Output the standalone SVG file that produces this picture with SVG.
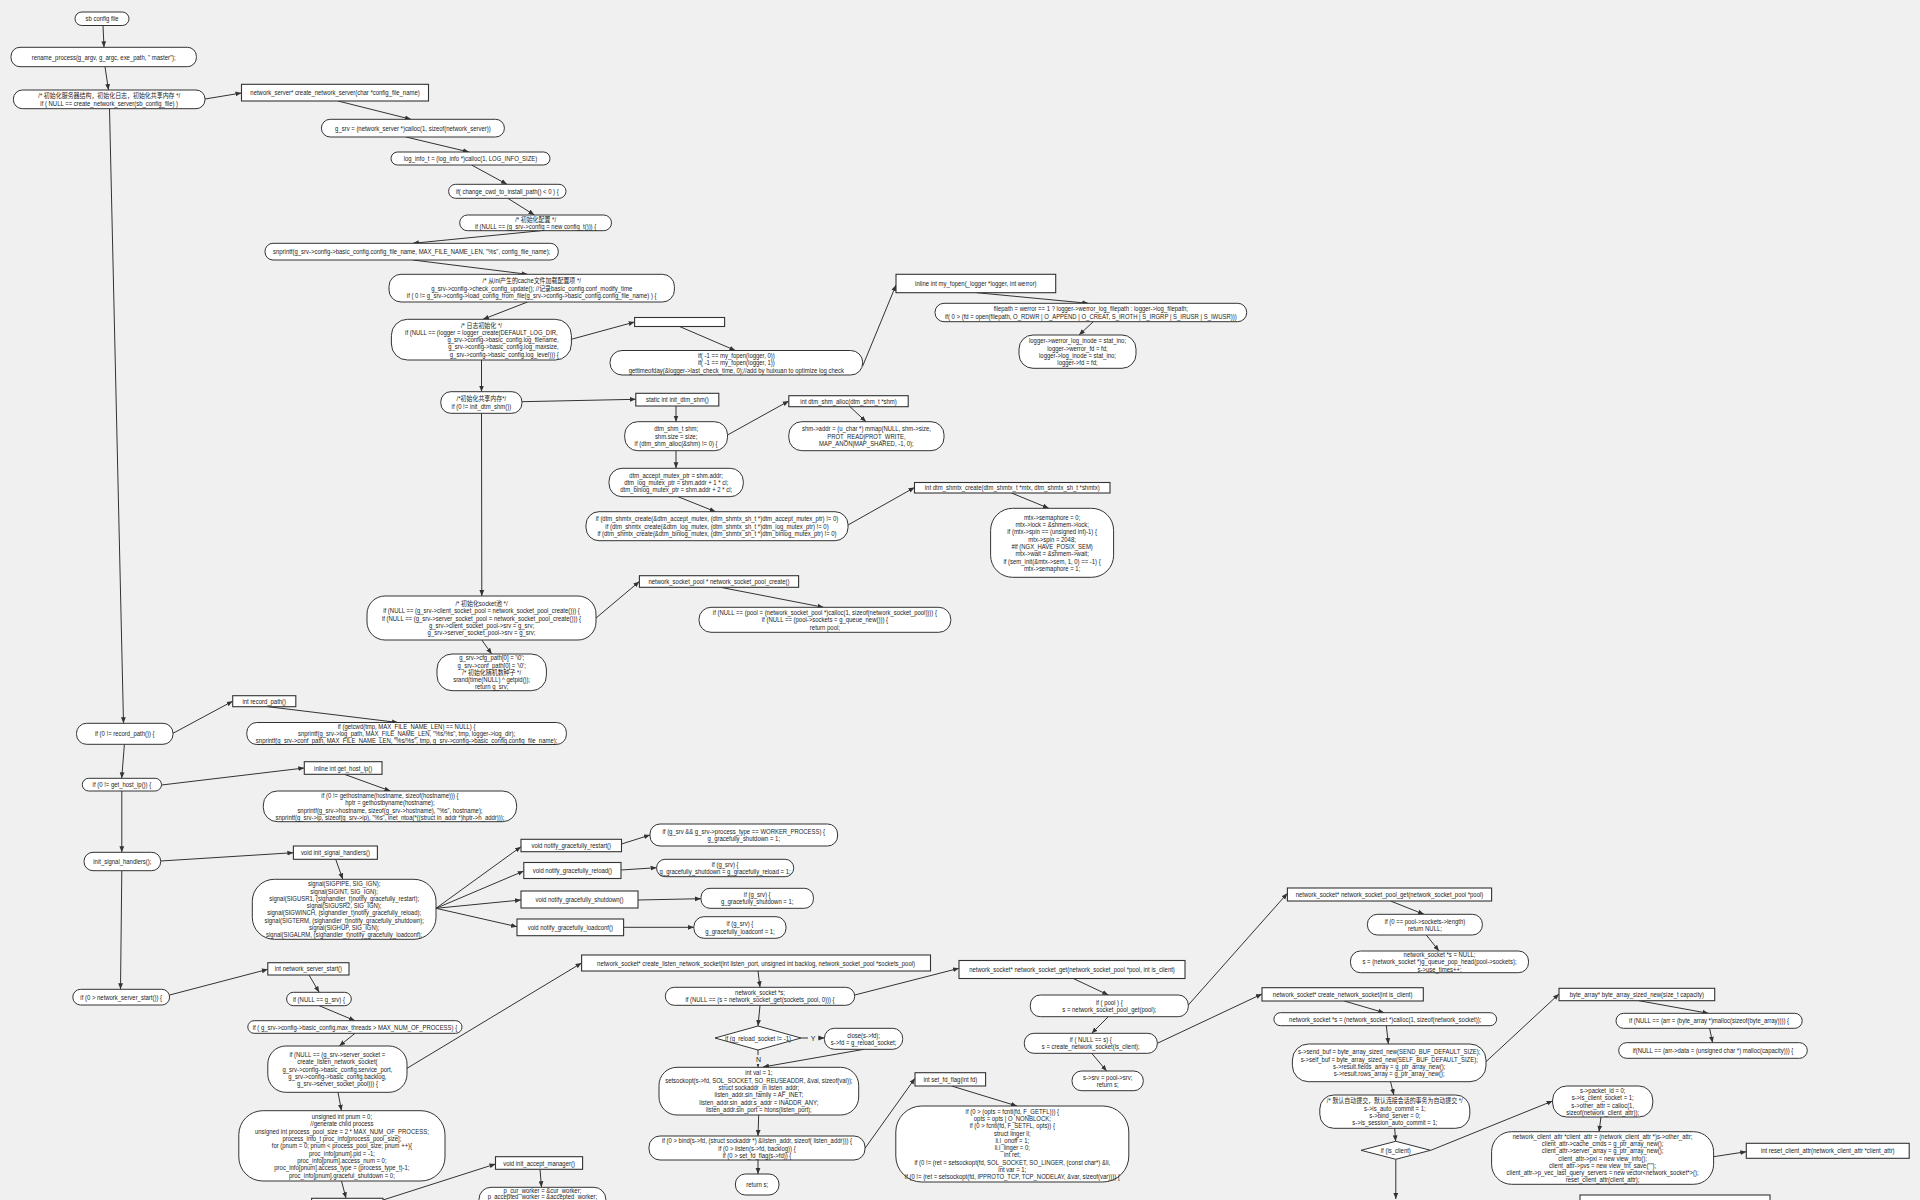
<svg xmlns="http://www.w3.org/2000/svg" width="1920" height="1200" viewBox="0 0 1920 1200">
<defs>
<marker id="ah" viewBox="0 0 10 10" refX="10" refY="5" markerWidth="6" markerHeight="6" orient="auto"><path d="M0,1 L10,5 L0,9 z" fill="#333"/></marker>
</defs>
<style>
.bg{fill:#f0f0f0}
.n{fill:#fff;stroke:#333;stroke-width:1}
.r{fill:#fff;stroke:#333;stroke-width:1.1}
.t{font-family:"Liberation Sans","Noto Sans CJK SC",sans-serif;font-size:7px;fill:#222;text-anchor:middle}
.te{font-family:"Liberation Sans","Noto Sans CJK SC",sans-serif;font-size:7px;fill:#222;text-anchor:end}
.c line{stroke:#333;stroke-width:1;marker-end:url(#ah)}
.lb{font-family:"Liberation Sans",sans-serif;font-size:7px;fill:#222;text-anchor:middle}
</style>
<rect class="bg" x="0" y="0" width="1920" height="1200"/>

<g class="c" id="connectors">
<line x1="103" y1="25.3" x2="104" y2="47.3"/>
<line x1="105" y1="66.7" x2="108.5" y2="90"/>
<line x1="205" y1="99" x2="241.5" y2="93"/>
<line x1="338" y1="101" x2="411" y2="119.3"/>
<line x1="406" y1="137" x2="469" y2="152"/>
<line x1="471.6" y1="165" x2="507" y2="184.3"/>
<line x1="507.8" y1="198.3" x2="534.4" y2="215"/>
<line x1="541" y1="230.7" x2="412.8" y2="243.3"/>
<line x1="412.8" y1="260" x2="527.5" y2="274.3"/>
<line x1="527.5" y1="302" x2="483" y2="319.3"/>
<line x1="571.3" y1="339.3" x2="634.6" y2="322"/>
<line x1="680" y1="326.7" x2="735.4" y2="350.5"/>
<line x1="862.7" y1="366" x2="896" y2="285"/>
<line x1="976.7" y1="292.7" x2="1088.3" y2="303.3"/>
<line x1="1093.3" y1="321.7" x2="1079" y2="335"/>
<line x1="481.5" y1="360" x2="481.5" y2="391.7"/>
<line x1="521.9" y1="401.7" x2="635.8" y2="399.3"/>
<line x1="676" y1="406" x2="676" y2="421.7"/>
<line x1="727.5" y1="435" x2="788.8" y2="401"/>
<line x1="850" y1="406.7" x2="866" y2="421.7"/>
<line x1="676" y1="450.7" x2="676" y2="468.3"/>
<line x1="678" y1="496.7" x2="715.5" y2="511.7"/>
<line x1="848" y1="525" x2="914.5" y2="487.5"/>
<line x1="1011.5" y1="493" x2="1048.8" y2="508.3"/>
<line x1="481.5" y1="413.3" x2="481.8" y2="596"/>
<line x1="596" y1="618" x2="639.4" y2="581.5"/>
<line x1="720.5" y1="587.3" x2="823.5" y2="607.3"/>
<line x1="481.8" y1="640" x2="491.7" y2="654"/>
<line x1="109.5" y1="108.7" x2="123.5" y2="723.3"/>
<line x1="173" y1="733.3" x2="232.7" y2="701.2"/>
<line x1="268" y1="706.7" x2="398" y2="722.5"/>
<line x1="124.4" y1="744.3" x2="121.7" y2="778.3"/>
<line x1="161.5" y1="785" x2="304.3" y2="768"/>
<line x1="344.4" y1="774.3" x2="390.4" y2="791"/>
<line x1="121.8" y1="791" x2="121.8" y2="852.3"/>
<line x1="160.7" y1="861" x2="293.4" y2="852.7"/>
<line x1="335.7" y1="859.3" x2="342.8" y2="879.3"/>
<line x1="436" y1="908.3" x2="521" y2="846.7"/>
<line x1="436" y1="908.3" x2="523.8" y2="871"/>
<line x1="436" y1="908.3" x2="521" y2="900"/>
<line x1="436" y1="908.3" x2="517" y2="926.7"/>
<line x1="621.5" y1="844" x2="650" y2="835"/>
<line x1="621" y1="870" x2="656.6" y2="867.7"/>
<line x1="638" y1="900" x2="701" y2="898.7"/>
<line x1="623.6" y1="927.3" x2="693.9" y2="927.3"/>
<line x1="121.8" y1="870.7" x2="120.5" y2="989.3"/>
<line x1="169.6" y1="995" x2="267.8" y2="969.3"/>
<line x1="309" y1="975" x2="319.2" y2="992.3"/>
<line x1="319.2" y1="1005.7" x2="355" y2="1020.7"/>
<line x1="355" y1="1033.3" x2="339.3" y2="1046"/>
<line x1="407" y1="1068.3" x2="581.6" y2="963"/>
<line x1="338" y1="1092.3" x2="341.5" y2="1110.7"/>
<line x1="341.5" y1="1181" x2="346" y2="1198.3"/>
<line x1="383" y1="1200" x2="495.5" y2="1164"/>
<line x1="540" y1="1169.3" x2="541.5" y2="1187.3"/>
<line x1="758" y1="971" x2="760" y2="987.3"/>
<line x1="854.7" y1="995" x2="959" y2="968.3"/>
<line x1="760" y1="1005.3" x2="758" y2="1026"/>
<line x1="801" y1="1038" x2="824.4" y2="1038"/>
<line x1="758" y1="1050" x2="758" y2="1067.3"/>
<line x1="864" y1="1049.3" x2="763" y2="1067"/>
<line x1="758.7" y1="1115" x2="758" y2="1136"/>
<line x1="758" y1="1160" x2="758" y2="1174"/>
<line x1="865" y1="1148.3" x2="915" y2="1078.3"/>
<line x1="951.7" y1="1086" x2="1017" y2="1106"/>
<line x1="1073.3" y1="978.5" x2="1108.3" y2="995"/>
<line x1="1108.3" y1="1016.7" x2="1091.7" y2="1033.3"/>
<line x1="1091.7" y1="1053.3" x2="1106.7" y2="1071"/>
<line x1="1188.3" y1="1005" x2="1287.4" y2="893.3"/>
<line x1="1157.3" y1="1043.3" x2="1262" y2="994"/>
<line x1="1390.5" y1="901" x2="1424" y2="914.3"/>
<line x1="1426.3" y1="935" x2="1439" y2="951"/>
<line x1="1344.2" y1="1001" x2="1384.2" y2="1012.7"/>
<line x1="1386.3" y1="1025.7" x2="1388.4" y2="1044"/>
<line x1="1486" y1="1061.7" x2="1559" y2="994"/>
<line x1="1638.9" y1="1000.7" x2="1708.4" y2="1013.3"/>
<line x1="1709.6" y1="1028.3" x2="1712.6" y2="1042.7"/>
<line x1="1390.5" y1="1081.7" x2="1393.9" y2="1095"/>
<line x1="1394.7" y1="1128.3" x2="1395.6" y2="1141.3"/>
<line x1="1430.8" y1="1150.3" x2="1552.6" y2="1101"/>
<line x1="1601" y1="1117" x2="1599" y2="1131.7"/>
<line x1="1713.6" y1="1156.7" x2="1746.3" y2="1151.7"/>
<line x1="1395.8" y1="1159.3" x2="1395.8" y2="1199"/>
<rect x="808" y="1034" width="10" height="9" fill="#f0f0f0"/>
<text class="lb" x="813" y="1040.5">Y</text>
<rect x="754" y="1055" width="9" height="9" fill="#f0f0f0"/>
<text class="lb" x="758.5" y="1062">N</text>
</g>

<g id="n1"><rect class="n" x="75" y="12" width="54" height="13.5" rx="6.75"/><text class="t" transform="translate(102 18.75) scale(.85 1)"><tspan x="0" y="2.5">sb config file</tspan></text></g>
<g id="n2"><rect class="n" x="11" y="47.3" width="185.4" height="19.4" rx="9"/><text class="t" transform="translate(103.7 57) scale(.85 1)"><tspan x="0" y="2.5">rename_process(g_argv, g_argc, exe_path, " master");</tspan></text></g>
<g id="n3"><rect class="n" x="13.4" y="90" width="191.6" height="18.7" rx="9"/><text class="t" transform="translate(109.2 99.35) scale(.85 1)"><tspan x="0" y="-1.15">/* 初始化服务器结构，初始化日志，初始化共享内存 */</tspan><tspan x="0" dy="7.3">if ( NULL == create_network_server(sb_config_file) )</tspan></text></g>
<g id="n4"><rect class="r" x="241.5" y="84.3" width="187" height="16.7"/><text class="t" transform="translate(335 92.65) scale(.85 1)"><tspan x="0" y="2.5">network_server* create_network_server(char *config_file_name)</tspan></text></g>
<g id="n5"><rect class="n" x="321.4" y="119.3" width="183" height="17.7" rx="8.8"/><text class="t" transform="translate(412.9 128.15) scale(.85 1)"><tspan x="0" y="2.5">g_srv = (network_server *)calloc(1, sizeof(network_server))</tspan></text></g>
<g id="n6"><rect class="n" x="391" y="152" width="159" height="13" rx="6.5"/><text class="t" transform="translate(470.5 158.5) scale(.85 1)"><tspan x="0" y="2.5">log_info_t = (log_info *)calloc(1, LOG_INFO_SIZE)</tspan></text></g>
<g id="n7"><rect class="n" x="448.6" y="184.3" width="117.4" height="14" rx="7"/><text class="t" transform="translate(507.3 191.3) scale(.85 1)"><tspan x="0" y="2.5">if( change_cwd_to_install_path() &lt; 0 ) {</tspan></text></g>
<g id="n8"><rect class="n" x="459.7" y="215" width="151.8" height="15.7" rx="7.8"/><text class="t" transform="translate(535.6 222.85) scale(.85 1)"><tspan x="0" y="-1.15">/* 初始化配置 */</tspan><tspan x="0" dy="7.3">if (NULL == (g_srv-&gt;config = new config_t())) {</tspan></text></g>
<g id="n9"><rect class="n" x="265" y="243.3" width="293.3" height="16.7" rx="8"/><text class="t" transform="translate(411.65 251.65) scale(.85 1)"><tspan x="0" y="2.5">snprintf(g_srv-&gt;config-&gt;basic_config.config_file_name, MAX_FILE_NAME_LEN, "%s", config_file_name);</tspan></text></g>
<g id="n10"><rect class="n" x="389" y="274.3" width="285.4" height="27.7" rx="12"/><text class="t" transform="translate(531.7 288.15) scale(.85 1)"><tspan x="0" y="-4.8">/* 从ini产生的cache文件加载配置项 */</tspan><tspan x="0" dy="7.3">g_srv-&gt;config-&gt;check_config_update(); //记录basic_config.conf_modify_time</tspan><tspan x="0" dy="7.3">if ( 0 != g_srv-&gt;config-&gt;load_config_from_file(g_srv-&gt;config-&gt;basic_config.config_file_name) ) {</tspan></text></g>
<g id="n_empty"><rect class="r" x="634.6" y="317.5" width="90" height="9"/></g>
<g id="n_logger"><rect class="n" x="391.4" y="319.3" width="180" height="40.7" rx="16"/><text class="t" transform="translate(481.4 339.65) scale(.85 1)"><tspan x="0" y="-12.1">/* 日志初始化 */</tspan><tspan x="0" dy="7.3">if (NULL == (logger = logger_create(DEFAULT_LOG_DIR,</tspan></text><text class="te" transform="translate(481.4 339.65) scale(.85 1)"><tspan x="91" y="2.5">g_srv-&gt;config-&gt;basic_config.log_filename,</tspan><tspan x="91" dy="7.3">g_srv-&gt;config-&gt;basic_config.log_maxsize,</tspan><tspan x="91" dy="7.3">g_srv-&gt;config-&gt;basic_config.log_level))) {</tspan></text></g>
<g id="n12"><rect class="n" x="610" y="350.5" width="252.7" height="24.5" rx="12"/><text class="t" transform="translate(736.35 362.75) scale(.85 1)"><tspan x="0" y="-4.8">if( -1 == my_fopen(logger, 0))</tspan><tspan x="0" dy="7.3">if( -1 == my_fopen(logger, 1))</tspan><tspan x="0" dy="7.3">gettimeofday(&amp;logger-&gt;last_check_time, 0);//add by huixuan to optimize log check</tspan></text></g>
<g id="n11"><rect class="r" x="896" y="274.3" width="159.7" height="18.4"/><text class="t" transform="translate(975.85 283.5) scale(.85 1)"><tspan x="0" y="2.5">inline int my_fopen(_logger *logger, int werror)</tspan></text></g>
<g id="n13"><rect class="n" x="935" y="303.3" width="311.7" height="18.4" rx="9"/><text class="t" transform="translate(1090.85 312.5) scale(.85 1)"><tspan x="0" y="-1.15">filepath = werror == 1 ? logger-&gt;werror_log_filepath : logger-&gt;log_filepath;</tspan><tspan x="0" dy="7.3">if( 0 &gt; (fd = open(filepath, O_RDWR | O_APPEND | O_CREAT, S_IROTH | S_IRGRP | S_IRUSR | S_IWUSR)))</tspan></text></g>
<g id="n14"><rect class="n" x="1019" y="335" width="117" height="33.3" rx="14"/><text class="t" transform="translate(1077.5 351.65) scale(.85 1)"><tspan x="0" y="-8.45">logger-&gt;werror_log_inode = stat_ino;</tspan><tspan x="0" dy="7.3">logger-&gt;werror_fd = fd;</tspan><tspan x="0" dy="7.3">logger-&gt;log_inode = stat_ino;</tspan><tspan x="0" dy="7.3">logger-&gt;fd = fd;</tspan></text></g>
<g id="n_shminit"><rect class="n" x="440.8" y="391.7" width="81.1" height="21.6" rx="10"/><text class="t" transform="translate(481.35 402.5) scale(.85 1)"><tspan x="0" y="-1.15">/*初始化共享内存*/</tspan><tspan x="0" dy="7.3">if (0 != init_dtm_shm())</tspan></text></g>
<g id="n_static"><rect class="r" x="635.8" y="393.3" width="83" height="12.7"/><text class="t" transform="translate(677.3 399.65) scale(.85 1)"><tspan x="0" y="2.5">static int init_dtm_shm()</tspan></text></g>
<g id="n_shm"><rect class="n" x="624.7" y="421.7" width="102.8" height="29" rx="13"/><text class="t" transform="translate(676.1 436.2) scale(.85 1)"><tspan x="0" y="-4.8">dtm_shm_t shm;</tspan><tspan x="0" dy="7.3">shm.size = size;</tspan><tspan x="0" dy="7.3">if (dtm_shm_alloc(&amp;shm) != 0) {</tspan></text></g>
<g id="n_alloc"><rect class="r" x="788.8" y="395.7" width="119.4" height="11"/><text class="t" transform="translate(848.5 401.2) scale(.85 1)"><tspan x="0" y="2.5">int dtm_shm_alloc(dtm_shm_t *shm)</tspan></text></g>
<g id="n_mmap"><rect class="n" x="788.8" y="421.7" width="155.2" height="29" rx="13"/><text class="t" transform="translate(866.4 436.2) scale(.85 1)"><tspan x="0" y="-4.8">shm-&gt;addr = (u_char *) mmap(NULL, shm-&gt;size,</tspan><tspan x="0" dy="7.3">PROT_READ|PROT_WRITE,</tspan><tspan x="0" dy="7.3">MAP_ANON|MAP_SHARED, -1, 0);</tspan></text></g>
<g id="n_dtmacc"><rect class="n" x="609" y="468.3" width="134.3" height="28.4" rx="13"/><text class="t" transform="translate(676.15 482.5) scale(.85 1)"><tspan x="0" y="-4.8">dtm_accept_mutex_ptr = shm.addr;</tspan><tspan x="0" dy="7.3">dtm_log_mutex_ptr = shm.addr + 1 * cl;</tspan><tspan x="0" dy="7.3">dtm_binlog_mutex_ptr = shm.addr + 2 * cl;</tspan></text></g>
<g id="n_shmtxcall"><rect class="n" x="586" y="511.7" width="262" height="29" rx="13"/><text class="t" transform="translate(717 526.2) scale(.85 1)"><tspan x="0" y="-4.8">if (dtm_shmtx_create(&amp;dtm_accept_mutex, (dtm_shmtx_sh_t *)dtm_accept_mutex_ptr) != 0)</tspan><tspan x="0" dy="7.3">if (dtm_shmtx_create(&amp;dtm_log_mutex, (dtm_shmtx_sh_t *)dtm_log_mutex_ptr) != 0)</tspan><tspan x="0" dy="7.3">if (dtm_shmtx_create(&amp;dtm_binlog_mutex, (dtm_shmtx_sh_t *)dtm_binlog_mutex_ptr) != 0)</tspan></text></g>
<g id="n_shmtx"><rect class="r" x="914.5" y="482.5" width="195.5" height="10.5"/><text class="t" transform="translate(1012.25 487.75) scale(.85 1)"><tspan x="0" y="2.5">int dtm_shmtx_create(dtm_shmtx_t *mtx, dtm_shmtx_sh_t *shmtx)</tspan></text></g>
<g id="n_mtx"><rect class="n" x="990.6" y="508.3" width="123" height="69" rx="22"/><text class="t" transform="translate(1052.1 542.8) scale(.85 1)"><tspan x="0" y="-23.05">mtx-&gt;semaphore = 0;</tspan><tspan x="0" dy="7.3">mtx-&gt;lock = &amp;shmem-&gt;lock;</tspan><tspan x="0" dy="7.3">if (mtx-&gt;spin == (unsigned int)-1) {</tspan><tspan x="0" dy="7.3">mtx-&gt;spin = 2048;</tspan><tspan x="0" dy="7.3">#if (NGX_HAVE_POSIX_SEM)</tspan><tspan x="0" dy="7.3">mtx-&gt;wait = &amp;shmem-&gt;wait;</tspan><tspan x="0" dy="7.3">if (sem_init(&amp;mtx-&gt;sem, 1, 0) == -1) {</tspan><tspan x="0" dy="7.3">mtx-&gt;semaphore = 1;</tspan></text></g>
<g id="n_sockpool"><rect class="n" x="367" y="596" width="229" height="44" rx="18"/><text class="t" transform="translate(481.5 618) scale(.85 1)"><tspan x="0" y="-12.1">/* 初始化socket池 */</tspan><tspan x="0" dy="7.3">if (NULL == (g_srv-&gt;client_socket_pool = network_socket_pool_create())) {</tspan><tspan x="0" dy="7.3">if (NULL == (g_srv-&gt;server_socket_pool = network_socket_pool_create())) {</tspan><tspan x="0" dy="7.3">g_srv-&gt;client_socket_pool-&gt;srv = g_srv;</tspan><tspan x="0" dy="7.3">g_srv-&gt;server_socket_pool-&gt;srv = g_srv;</tspan></text></g>
<g id="n_poolcreate"><rect class="r" x="639.4" y="575.7" width="159.2" height="11.6"/><text class="t" transform="translate(719 581.5) scale(.85 1)"><tspan x="0" y="2.5">network_socket_pool * network_socket_pool_create()</tspan></text></g>
<g id="n_pool"><rect class="n" x="699" y="607.3" width="251.8" height="25" rx="12"/><text class="t" transform="translate(824.9 619.8) scale(.85 1)"><tspan x="0" y="-4.8">if (NULL == (pool = (network_socket_pool *)calloc(1, sizeof(network_socket_pool)))) {</tspan><tspan x="0" dy="7.3">if (NULL == (pool-&gt;sockets = g_queue_new())) {</tspan><tspan x="0" dy="7.3">return pool;</tspan></text></g>
<g id="n_cfg"><rect class="n" x="437" y="654" width="109.4" height="36.7" rx="15"/><text class="t" transform="translate(491.7 672.35) scale(.85 1)"><tspan x="0" y="-12.1">g_srv-&gt;cfg_path[0] = '\0';</tspan><tspan x="0" dy="7.3">g_srv-&gt;conf_path[0] = '\0';</tspan><tspan x="0" dy="7.3">/* 初始化随机数种子 */</tspan><tspan x="0" dy="7.3">srand(time(NULL) ^ getpid());</tspan><tspan x="0" dy="7.3">return g_srv;</tspan></text></g>
<g id="n_record"><rect class="n" x="76.5" y="723.3" width="96.5" height="21" rx="10"/><text class="t" transform="translate(124.75 733.8) scale(.85 1)"><tspan x="0" y="2.5">if (0 != record_path()) {</tspan></text></g>
<g id="n_recrect"><rect class="r" x="232.7" y="695.7" width="63.1" height="11"/><text class="t" transform="translate(264.25 701.2) scale(.85 1)"><tspan x="0" y="2.5">int record_path()</tspan></text></g>
<g id="n_getcwd"><rect class="n" x="246.8" y="722.5" width="319.6" height="22" rx="10"/><text class="t" transform="translate(406.6 733.5) scale(.85 1)"><tspan x="0" y="-4.8">if (getcwd(tmp, MAX_FILE_NAME_LEN) == NULL) {</tspan><tspan x="0" dy="7.3">snprintf(g_srv-&gt;log_path, MAX_FILE_NAME_LEN, "%s/%s", tmp, logger-&gt;log_dir);</tspan><tspan x="0" dy="7.3">snprintf(g_srv-&gt;conf_path, MAX_FILE_NAME_LEN, "%s/%s", tmp, g_srv-&gt;config-&gt;basic_config.config_file_name);</tspan></text></g>
<g id="n_hostip"><rect class="n" x="82.3" y="778.3" width="79.2" height="12.7" rx="6.3"/><text class="t" transform="translate(121.9 784.65) scale(.85 1)"><tspan x="0" y="2.5">if (0 != get_host_ip()) {</tspan></text></g>
<g id="n_hostrect"><rect class="r" x="304.3" y="761.7" width="77.7" height="12.6"/><text class="t" transform="translate(343.15 768) scale(.85 1)"><tspan x="0" y="2.5">inline int get_host_ip()</tspan></text></g>
<g id="n_hostname"><rect class="n" x="263.3" y="791" width="253.3" height="30.7" rx="14"/><text class="t" transform="translate(389.95 806.35) scale(.85 1)"><tspan x="0" y="-8.45">if (0 != gethostname(hostname, sizeof(hostname))) {</tspan><tspan x="0" dy="7.3">hptr = gethostbyname(hostname);</tspan><tspan x="0" dy="7.3">snprintf(g_srv-&gt;hostname, sizeof(g_srv-&gt;hostname), "%s", hostname);</tspan><tspan x="0" dy="7.3">snprintf(g_srv-&gt;ip, sizeof(g_srv-&gt;ip), "%s", inet_ntoa(*((struct in_addr *)hptr-&gt;h_addr)));</tspan></text></g>
<g id="n_initsig"><rect class="n" x="84" y="852.3" width="76.7" height="18.4" rx="9"/><text class="t" transform="translate(122.35 861.5) scale(.85 1)"><tspan x="0" y="2.5">init_signal_handlers();</tspan></text></g>
<g id="n_sigrect"><rect class="r" x="293.4" y="846" width="84" height="13.3"/><text class="t" transform="translate(335.4 852.65) scale(.85 1)"><tspan x="0" y="2.5">void init_signal_handlers()</tspan></text></g>
<g id="n_signal"><rect class="n" x="252.3" y="879.3" width="183.7" height="60" rx="22"/><text class="t" transform="translate(344.15 909.3) scale(.85 1)"><tspan x="0" y="-23.05">signal(SIGPIPE, SIG_IGN);</tspan><tspan x="0" dy="7.3">signal(SIGINT, SIG_IGN);</tspan><tspan x="0" dy="7.3">signal(SIGUSR1, (sighandler_t)notify_gracefully_restart);</tspan><tspan x="0" dy="7.3">signal(SIGUSR2, SIG_IGN);</tspan><tspan x="0" dy="7.3">signal(SIGWINCH, (sighandler_t)notify_gracefully_reload);</tspan><tspan x="0" dy="7.3">signal(SIGTERM, (sighandler_t)notify_gracefully_shutdown);</tspan><tspan x="0" dy="7.3">signal(SIGHUP, SIG_IGN);</tspan><tspan x="0" dy="7.3">signal(SIGALRM, (sighandler_t)notify_gracefully_loadconf);</tspan></text></g>
<g id="n_restart"><rect class="r" x="521" y="839.3" width="100.5" height="12.4"/><text class="t" transform="translate(571.25 845.5) scale(.85 1)"><tspan x="0" y="2.5">void notify_gracefully_restart()</tspan></text></g>
<g id="n_reload"><rect class="r" x="523.8" y="862.5" width="97.2" height="16"/><text class="t" transform="translate(572.4 870.5) scale(.85 1)"><tspan x="0" y="2.5">void notify_gracefully_reload()</tspan></text></g>
<g id="n_shutdown"><rect class="r" x="521" y="891" width="117" height="17"/><text class="t" transform="translate(579.5 899.5) scale(.85 1)"><tspan x="0" y="2.5">void notify_gracefully_shutdown()</tspan></text></g>
<g id="n_loadconf"><rect class="r" x="517" y="919" width="106.6" height="16.7"/><text class="t" transform="translate(570.3 927.35) scale(.85 1)"><tspan x="0" y="2.5">void notify_gracefully_loadconf()</tspan></text></g>
<g id="n_restartnode"><rect class="n" x="650" y="824" width="187.6" height="22" rx="10"/><text class="t" transform="translate(743.8 835) scale(.85 1)"><tspan x="0" y="-1.15">if (g_srv &amp;&amp; g_srv-&gt;process_type == WORKER_PROCESS) {</tspan><tspan x="0" dy="7.3">g_gracefully_shutdown = 1;</tspan></text></g>
<g id="n_reloadnode"><rect class="n" x="656.6" y="859.3" width="137.1" height="17.4" rx="8.5"/><text class="t" transform="translate(725.15 868) scale(.85 1)"><tspan x="0" y="-1.15">if (g_srv) {</tspan><tspan x="0" dy="7.3">g_gracefully_shutdown = g_gracefully_reload = 1;</tspan></text></g>
<g id="n_shutdownnode"><rect class="n" x="701" y="888.3" width="112.4" height="20" rx="9"/><text class="t" transform="translate(757.2 898.3) scale(.85 1)"><tspan x="0" y="-1.15">if (g_srv) {</tspan><tspan x="0" dy="7.3">g_gracefully_shutdown = 1;</tspan></text></g>
<g id="n_loadconfnode"><rect class="n" x="693.9" y="916.7" width="92.1" height="21.6" rx="10"/><text class="t" transform="translate(739.95 927.5) scale(.85 1)"><tspan x="0" y="-1.15">if (g_srv) {</tspan><tspan x="0" dy="7.3">g_gracefully_loadconf = 1;</tspan></text></g>
<g id="n_srvstart"><rect class="n" x="72.8" y="989.3" width="96.8" height="15.7" rx="7.8"/><text class="t" transform="translate(121.2 997.15) scale(.85 1)"><tspan x="0" y="2.5">if (0 &gt; network_server_start()) {</tspan></text></g>
<g id="n_srvrect"><rect class="r" x="267.8" y="962.7" width="81.2" height="12.3"/><text class="t" transform="translate(308.4 968.85) scale(.85 1)"><tspan x="0" y="2.5">int network_server_start()</tspan></text></g>
<g id="n_nullsrv"><rect class="n" x="286.6" y="992.3" width="64.7" height="13.4" rx="6.7"/><text class="t" transform="translate(318.95 999) scale(.85 1)"><tspan x="0" y="2.5">if (NULL == g_srv) {</tspan></text></g>
<g id="n_max"><rect class="n" x="247.8" y="1020.7" width="214.2" height="12.6" rx="6.3"/><text class="t" transform="translate(354.9 1027) scale(.85 1)"><tspan x="0" y="2.5">if ( g_srv-&gt;config-&gt;basic_config.max_threads &gt; MAX_NUM_OF_PROCESS) {</tspan></text></g>
<g id="n_srvsock"><rect class="n" x="267.8" y="1046" width="139.2" height="46.3" rx="18"/><text class="t" transform="translate(337.4 1069.15) scale(.85 1)"><tspan x="0" y="-12.1">if (NULL == (g_srv-&gt;server_socket =</tspan><tspan x="0" dy="7.3">create_listen_network_socket(</tspan><tspan x="0" dy="7.3">g_srv-&gt;config-&gt;basic_config.service_port,</tspan><tspan x="0" dy="7.3">g_srv-&gt;config-&gt;basic_config.backlog,</tspan><tspan x="0" dy="7.3">g_srv-&gt;server_socket_pool))) {</tspan></text></g>
<g id="n_pnum"><rect class="n" x="238.8" y="1110.7" width="206.2" height="70.3" rx="24"/><text class="t" transform="translate(341.9 1145.85) scale(.85 1)"><tspan x="0" y="-26.7">unsigned int pnum = 0;</tspan><tspan x="0" dy="7.3">//generate child process</tspan><tspan x="0" dy="7.3">unsigned int process_pool_size = 2 * MAX_NUM_OF_PROCESS;</tspan><tspan x="0" dy="7.3">process_info_t proc_info[process_pool_size];</tspan><tspan x="0" dy="7.3">for (pnum = 0; pnum &lt; process_pool_size; pnum ++){</tspan><tspan x="0" dy="7.3">proc_info[pnum].pid = -1;</tspan><tspan x="0" dy="7.3">proc_info[pnum].access_num = 0;</tspan><tspan x="0" dy="7.3">proc_info[pnum].access_type = (process_type_t)-1;</tspan><tspan x="0" dy="7.3">proc_info[pnum].graceful_shutdown = 0;</tspan></text></g>
<g id="n_bottom1"><rect class="r" x="311.6" y="1198.3" width="71.4" height="20"/></g>
<g id="n_acceptrect"><rect class="r" x="495.5" y="1156.7" width="87.1" height="12.6"/><text class="t" transform="translate(539.05 1163) scale(.85 1)"><tspan x="0" y="2.5">void init_accept_manager()</tspan></text></g>
<g id="n_pcur"><rect class="n" x="479" y="1187.3" width="126.8" height="30" rx="12"/><text class="t" transform="translate(542.4 1193) scale(.85 1)"><tspan x="0" y="0">p_cur_worker = &amp;cur_worker;</tspan><tspan x="0" dy="6.3">p_accepted_worker = &amp;accepted_worker;</tspan></text></g>
<g id="n_listenrect"><rect class="r" x="581.6" y="955" width="348.9" height="16"/><text class="t" transform="translate(756.05 963) scale(.85 1)"><tspan x="0" y="2.5">network_socket* create_listen_network_socket(int listen_port, unsigned int backlog, network_socket_pool *sockets_pool)</tspan></text></g>
<g id="n_snode"><rect class="n" x="665.3" y="987.3" width="189.4" height="18" rx="9"/><text class="t" transform="translate(760 996.3) scale(.85 1)"><tspan x="0" y="-1.15">network_socket *s;</tspan><tspan x="0" dy="7.3">if (NULL == (s = network_socket_get(sockets_pool, 0))) {</tspan></text></g>
<g id="n_reloaddiamond"><polygon class="n" points="715,1038 758,1026 801,1038 758,1050"/><text class="t" transform="translate(758 1038) scale(.85 1)"><tspan x="0" y="2.5">if (g_reload_socket != -1)</tspan></text></g>
<g id="n_close"><rect class="n" x="824.4" y="1028.3" width="78.3" height="21" rx="10"/><text class="t" transform="translate(863.55 1038.8) scale(.85 1)"><tspan x="0" y="-1.15">close(s-&gt;fd);</tspan><tspan x="0" dy="7.3">s-&gt;fd = g_reload_socket;</tspan></text></g>
<g id="n_val"><rect class="n" x="659" y="1067.3" width="199.7" height="47.7" rx="18"/><text class="t" transform="translate(758.85 1091.15) scale(.85 1)"><tspan x="0" y="-15.75">int val = 1;</tspan><tspan x="0" dy="7.3">setsockopt(s-&gt;fd, SOL_SOCKET, SO_REUSEADDR, &amp;val, sizeof(val));</tspan><tspan x="0" dy="7.3">struct sockaddr_in listen_addr;</tspan><tspan x="0" dy="7.3">listen_addr.sin_family = AF_INET;</tspan><tspan x="0" dy="7.3">listen_addr.sin_addr.s_addr = INADDR_ANY;</tspan><tspan x="0" dy="7.3">listen_addr.sin_port = htons(listen_port);</tspan></text></g>
<g id="n_bind"><rect class="n" x="649" y="1136" width="216" height="24" rx="11"/><text class="t" transform="translate(757 1148) scale(.85 1)"><tspan x="0" y="-4.8">if (0 &gt; bind(s-&gt;fd, (struct sockaddr *) &amp;listen_addr, sizeof( listen_addr))) {</tspan><tspan x="0" dy="7.3">if (0 &gt; listen(s-&gt;fd, backlog)) {</tspan><tspan x="0" dy="7.3">if (0 &gt; set_fd_flag(s-&gt;fd)) {</tspan></text></g>
<g id="n_return"><rect class="n" x="735.4" y="1174" width="43.6" height="21" rx="10"/><text class="t" transform="translate(757.2 1184.5) scale(.85 1)"><tspan x="0" y="2.5">return s;</tspan></text></g>
<g id="n_setfd"><rect class="r" x="915" y="1072.7" width="70.6" height="13.3"/><text class="t" transform="translate(950.3 1079.35) scale(.85 1)"><tspan x="0" y="2.5">int set_fd_flag(int fd)</tspan></text></g>
<g id="n_fcntl"><rect class="n" x="895.8" y="1106" width="233" height="76" rx="26"/><text class="t" transform="translate(1012.3 1144) scale(.85 1)"><tspan x="0" y="-30.35">if (0 &gt; (opts = fcntl(fd, F_GETFL))) {</tspan><tspan x="0" dy="7.3">opts = opts | O_NONBLOCK;</tspan><tspan x="0" dy="7.3">if (0 &gt; fcntl(fd, F_SETFL, opts)) {</tspan><tspan x="0" dy="7.3">struct linger li;</tspan><tspan x="0" dy="7.3">li.l_onoff = 1;</tspan><tspan x="0" dy="7.3">li.l_linger = 0;</tspan><tspan x="0" dy="7.3">int ret;</tspan><tspan x="0" dy="7.3">if (0 != (ret = setsockopt(fd, SOL_SOCKET, SO_LINGER, (const char*) &amp;li,</tspan><tspan x="0" dy="7.3">int var = 1;</tspan><tspan x="0" dy="7.3">if (0 != (ret = setsockopt(fd, IPPROTO_TCP, TCP_NODELAY, &amp;var, sizeof(var)))) {</tspan></text></g>
<g id="n_getrect"><rect class="r" x="959" y="960.5" width="226" height="18"/><text class="t" transform="translate(1072 969.5) scale(.85 1)"><tspan x="0" y="2.5">network_socket* network_socket_get(network_socket_pool *pool, int is_client)</tspan></text></g>
<g id="n_poolnode"><rect class="n" x="1030.3" y="995" width="158" height="21.7" rx="10"/><text class="t" transform="translate(1109.3 1005.85) scale(.85 1)"><tspan x="0" y="-1.15">if ( pool ) {</tspan><tspan x="0" dy="7.3">s = network_socket_pool_get(pool);</tspan></text></g>
<g id="n_nulls"><rect class="n" x="1024.3" y="1033.3" width="133" height="20" rx="9.5"/><text class="t" transform="translate(1090.8 1043.3) scale(.85 1)"><tspan x="0" y="-1.15">if ( NULL == s) {</tspan><tspan x="0" dy="7.3">s = create_network_socket(is_client);</tspan></text></g>
<g id="n_srvret"><rect class="n" x="1072" y="1071" width="71.3" height="19.7" rx="9.5"/><text class="t" transform="translate(1107.65 1080.85) scale(.85 1)"><tspan x="0" y="-1.15">s-&gt;srv = pool-&gt;srv;</tspan><tspan x="0" dy="7.3">return s;</tspan></text></g>
<g id="n_poolget"><rect class="r" x="1287.4" y="888" width="204.2" height="13"/><text class="t" transform="translate(1389.5 894.5) scale(.85 1)"><tspan x="0" y="2.5">network_socket* network_socket_pool_get(network_socket_pool *pool)</tspan></text></g>
<g id="n_length"><rect class="n" x="1367.4" y="914.3" width="115" height="20.7" rx="10"/><text class="t" transform="translate(1424.9 924.65) scale(.85 1)"><tspan x="0" y="-1.15">if (0 == pool-&gt;sockets-&gt;length)</tspan><tspan x="0" dy="7.3">return NULL;</tspan></text></g>
<g id="n_pop"><rect class="n" x="1350.5" y="951" width="178" height="21.7" rx="10"/><text class="t" transform="translate(1439.5 961.85) scale(.85 1)"><tspan x="0" y="-4.8">network_socket *s = NULL;</tspan><tspan x="0" dy="7.3">s = (network_socket *)g_queue_pop_head(pool-&gt;sockets);</tspan><tspan x="0" dy="7.3">s-&gt;use_times++;</tspan></text></g>
<g id="n_createns"><rect class="r" x="1262" y="987.7" width="161.3" height="13.3"/><text class="t" transform="translate(1342.65 994.35) scale(.85 1)"><tspan x="0" y="2.5">network_socket* create_network_socket(int is_client)</tspan></text></g>
<g id="n_calloc"><rect class="n" x="1273.9" y="1012.7" width="222.7" height="13" rx="6.5"/><text class="t" transform="translate(1385.25 1019.2) scale(.85 1)"><tspan x="0" y="2.5">network_socket *s = (network_socket *)calloc(1, sizeof(network_socket));</tspan></text></g>
<g id="n_sendbuf"><rect class="n" x="1292.4" y="1044" width="193.6" height="37.7" rx="16"/><text class="t" transform="translate(1389.2 1062.85) scale(.85 1)"><tspan x="0" y="-8.45">s-&gt;send_buf = byte_array_sized_new(SEND_BUF_DEFAULT_SIZE);</tspan><tspan x="0" dy="7.3">s-&gt;self_buf = byte_array_sized_new(SELF_BUF_DEFAULT_SIZE);</tspan><tspan x="0" dy="7.3">s-&gt;result.fields_array = g_ptr_array_new();</tspan><tspan x="0" dy="7.3">s-&gt;result.rows_array = g_ptr_array_new();</tspan></text></g>
<g id="n_bytearr"><rect class="r" x="1559" y="988.3" width="155.7" height="12.4"/><text class="t" transform="translate(1636.85 994.5) scale(.85 1)"><tspan x="0" y="2.5">byte_array* byte_array_sized_new(size_t capacity)</tspan></text></g>
<g id="n_malloc"><rect class="n" x="1616" y="1013.3" width="186.2" height="15" rx="7.5"/><text class="t" transform="translate(1709.1 1020.8) scale(.85 1)"><tspan x="0" y="2.5">if (NULL == (arr = (byte_array *)malloc(sizeof(byte_array)))) {</tspan></text></g>
<g id="n_data"><rect class="n" x="1618.7" y="1042.7" width="188.6" height="15.6" rx="7.8"/><text class="t" transform="translate(1713 1050.5) scale(.85 1)"><tspan x="0" y="2.5">if(NULL == (arr-&gt;data = (unsigned char *) malloc(capacity))) {</tspan></text></g>
<g id="n_autocommit"><rect class="n" x="1319.8" y="1095" width="150" height="33.3" rx="14"/><text class="t" transform="translate(1394.8 1111.65) scale(.85 1)"><tspan x="0" y="-8.45">/* 默认自动提交，默认连接会话的事务为自动提交 */</tspan><tspan x="0" dy="7.3">s-&gt;is_auto_commit = 1;</tspan><tspan x="0" dy="7.3">s-&gt;bind_server = 0;</tspan><tspan x="0" dy="7.3">s-&gt;is_session_auto_commit = 1;</tspan></text></g>
<g id="n_isclient"><polygon class="n" points="1361,1150.3 1395.8,1141.3 1430.6,1150.3 1395.8,1159.3"/><text class="t" transform="translate(1395.8 1150.3) scale(.85 1)"><tspan x="0" y="2.5">if (is_client)</tspan></text></g>
<g id="n_packet"><rect class="n" x="1552.6" y="1086" width="100.2" height="31" rx="14"/><text class="t" transform="translate(1602.7 1101.5) scale(.85 1)"><tspan x="0" y="-8.45">s-&gt;packet_id = 0;</tspan><tspan x="0" dy="7.3">s-&gt;is_client_socket = 1;</tspan><tspan x="0" dy="7.3">s-&gt;other_attr = calloc(1,</tspan><tspan x="0" dy="7.3">sizeof(network_client_attr));</tspan></text></g>
<g id="n_clientattr"><rect class="n" x="1491.6" y="1131.7" width="222" height="52.6" rx="20"/><text class="t" transform="translate(1602.6 1158) scale(.85 1)"><tspan x="0" y="-19.4">network_client_attr *client_attr = (network_client_attr *)s-&gt;other_attr;</tspan><tspan x="0" dy="7.3">client_attr-&gt;cache_cmds = g_ptr_array_new();</tspan><tspan x="0" dy="7.3">client_attr-&gt;server_array = g_ptr_array_new();</tspan><tspan x="0" dy="7.3">client_attr-&gt;pxi = new view_info();</tspan><tspan x="0" dy="7.3">client_attr-&gt;pvs = new view_tnt_save("");</tspan><tspan x="0" dy="7.3">client_attr-&gt;p_vec_last_query_servers = new vector&lt;network_socket*&gt;();</tspan><tspan x="0" dy="7.3">reset_client_attr(client_attr);</tspan></text></g>
<g id="n_reset"><rect class="r" x="1746.3" y="1143.3" width="162.9" height="15"/><text class="t" transform="translate(1827.75 1150.8) scale(.85 1)"><tspan x="0" y="2.5">int reset_client_attr(network_client_attr *client_attr)</tspan></text></g>
<g id="n_bottom2"><rect class="r" x="1580" y="1195" width="190" height="20"/></g>
</svg>
